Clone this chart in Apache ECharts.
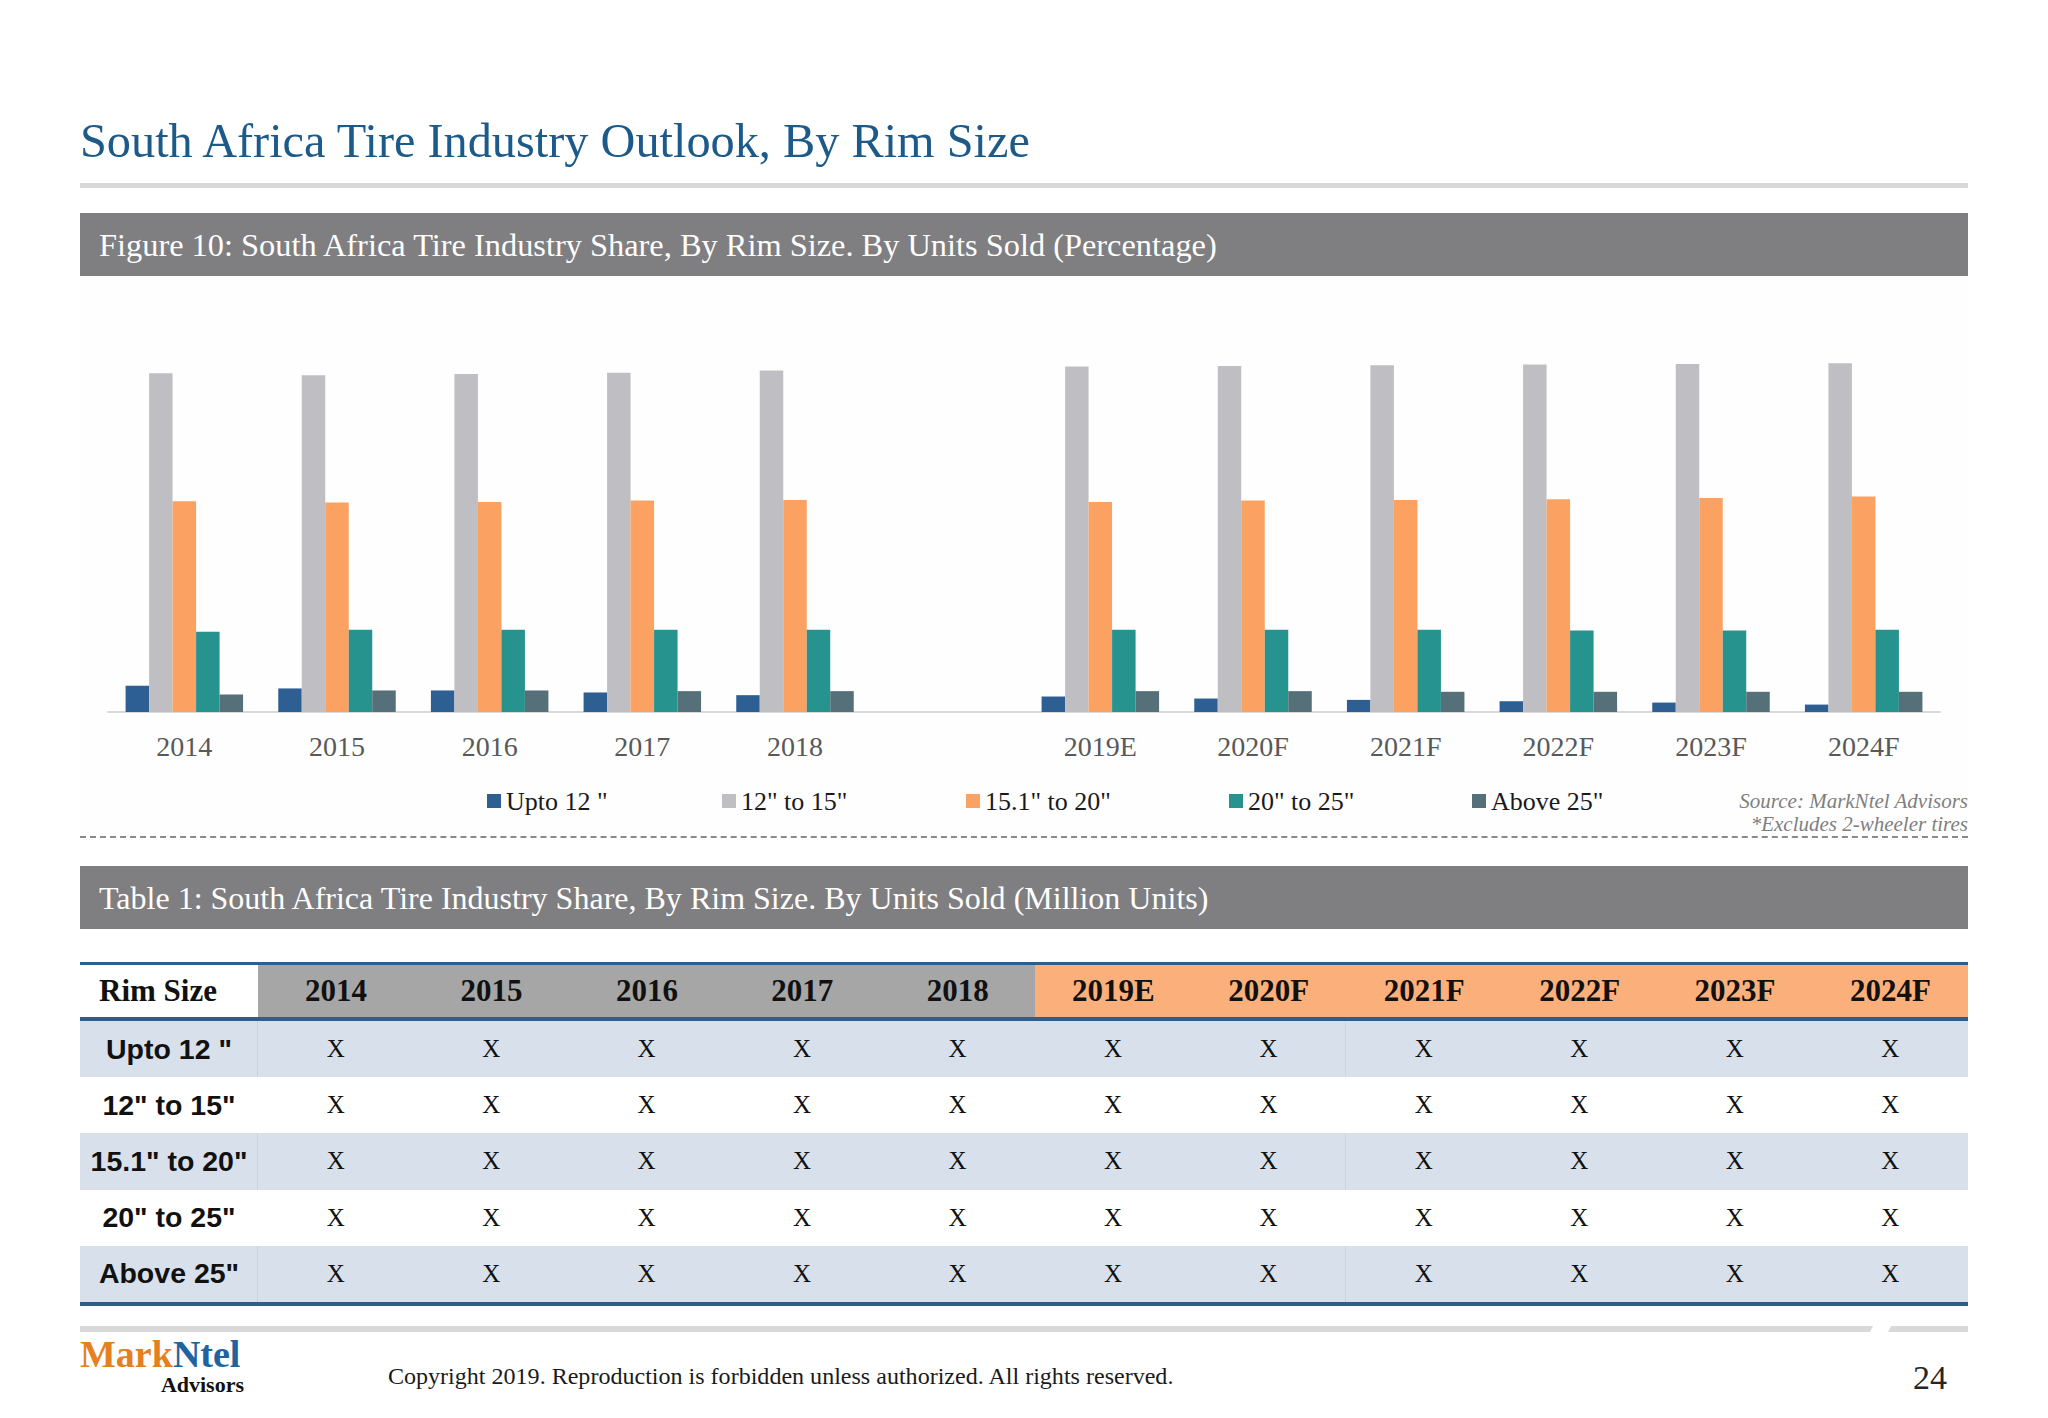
<!DOCTYPE html>
<html>
<head>
<meta charset="utf-8">
<script src="https://cdn.jsdelivr.net/npm/echarts@6.0.0/dist/echarts.min.js"></script>
<style>
  html, body { margin:0; padding:0; background:#ffffff; }
  body { width:2048px; height:1418px; position:relative; overflow:hidden; font-family:'Liberation Serif', serif; }
  .abs { position:absolute; }
  .vc { transform:translateY(-50%); line-height:1; white-space:nowrap; }
  #title { left:80px; top:141px; font-size:48px; color:#1c5a89; }
  .rule { background:#d9d9d9; }
  .band { background:#7f7e80; left:80px; width:1888px; }
  .bandtext { color:#ffffff; font-size:31px; left:99px; }
  #chart { left:80px; top:276px; width:1888px; height:560px; background:#fefefe; }
  #dash { left:80px; top:836px; width:1888px; height:0; border-top:2px dashed #8a8a8a; }
  .src { right:80px; color:#7f7f7f; font-style:italic; font-size:21px; text-align:right; }
  #table { left:80px; top:962px; width:1888px; }
  .tb { position:absolute; left:0; width:1888px; background:#2f5d8c; }
  .cell { position:absolute; display:flex; align-items:center; justify-content:center; box-sizing:border-box; }
  .hdr { font-weight:bold; font-size:31px; color:#111; }
  .lbl { font-family:'Liberation Sans', Arial, sans-serif; font-weight:bold; font-size:28.5px; color:#111; }
  .val { font-size:25px; color:#111; }
  #copy { left:388px; top:1376px; font-size:22px; color:#1a1a1a; }
  #page { left:1913px; top:1378px; font-size:34px; color:#262626; }
  #logo1 { left:80px; top:1354px; font-size:38px; font-weight:bold; }
  #logo2 { left:244px; top:1385px; font-size:22px; font-weight:bold; color:#111; transform:translate(-100%,-50%); }
</style>
</head>
<body>
<div id="title" class="abs vc">South Africa Tire Industry Outlook, By Rim Size</div>
<div class="abs rule" style="left:80px;top:183px;width:1888px;height:5px;"></div>
<div class="abs band" style="top:213px;height:63px;"></div>
<div id="figText" class="abs vc bandtext" style="top:245px;">Figure 10: South Africa Tire Industry Share, By Rim Size. By Units Sold (Percentage)</div>
<div id="chart" class="abs"></div>
<div class="abs vc src" style="top:801px;">Source: MarkNtel Advisors</div>
<div class="abs vc src" style="top:824px;">*Excludes 2-wheeler tires</div>
<div id="dash" class="abs"></div>
<div class="abs band" style="top:866px;height:63px;"></div>
<div id="tabText" class="abs vc bandtext" style="top:898px;">Table 1: South Africa Tire Industry Share, By Rim Size. By Units Sold (Million Units)</div>
<div id="table" class="abs"></div>
<div class="abs rule" style="left:80px;top:1326px;width:1793px;height:6px;clip-path:polygon(0 0,100% 0,calc(100% - 3px) 100%,0 100%);"></div>
<div class="abs rule" style="left:1888px;top:1326px;width:80px;height:6px;clip-path:polygon(3px 0,100% 0,100% 100%,0 100%);"></div>
<div id="logo1" class="abs vc"><span style="color:#e5801f">Mark</span><span style="color:#1f63a0">Ntel</span></div>
<div id="logo2" class="abs vc">Advisors</div>
<div id="copy" class="abs vc">Copyright 2019. Reproduction is forbidden unless authorized. All rights reserved.</div>
<div id="page" class="abs vc">24</div>

<script>
// ---------------- data ----------------
const categories = ['2014', '2015', '2016', '2017', '2018', '', '2019E', '2020F', '2021F', '2022F', '2023F', '2024F'];
const seriesNames = ['Upto 12 "', '12" to 15"', '15.1" to 20"', '20" to 25"', 'Above 25"'];
const upto12   = [3.9, 3.5, 3.2, 2.9, 2.5, null, 2.3, 2.0, 1.8, 1.6, 1.4, 1.1];
const r12to15  = [50.3, 50.0, 50.2, 50.4, 50.7, null, 51.3, 51.4, 51.5, 51.6, 51.7, 51.8];
const r15to20  = [31.3, 31.1, 31.2, 31.4, 31.5, null, 31.2, 31.4, 31.5, 31.6, 31.8, 32.0];
const r20to25  = [11.9, 12.2, 12.2, 12.2, 12.2, null, 12.2, 12.2, 12.2, 12.1, 12.1, 12.2];
const above25  = [2.6, 3.2, 3.2, 3.1, 3.1, null, 3.1, 3.1, 3.0, 3.0, 3.0, 3.0];

const tableHeaderLabel = 'Rim Size';
const tableYears = ['2014', '2015', '2016', '2017', '2018', '2019E', '2020F', '2021F', '2022F', '2023F', '2024F'];
const rimSizes = ['Upto 12 "', '12" to 15"', '15.1" to 20"', '20" to 25"', 'Above 25"'];
const rowUpto12  = ['X','X','X','X','X','X','X','X','X','X','X'];
const row12to15  = ['X','X','X','X','X','X','X','X','X','X','X'];
const row15to20  = ['X','X','X','X','X','X','X','X','X','X','X'];
const row20to25  = ['X','X','X','X','X','X','X','X','X','X','X'];
const rowAbove25 = ['X','X','X','X','X','X','X','X','X','X','X'];

// ---------------- chart ----------------
const seriesData = [upto12, r12to15, r15to20, r20to25, above25];
const colors = ['#2d5f93', '#bfbec2', '#fba262', '#27938f', '#557078'];
const legendLeft = [402, 637, 881, 1144, 1387];

const chart = echarts.init(document.getElementById('chart'), null, { renderer: 'svg' });
chart.setOption({
  animation: false,
  backgroundColor: 'transparent',
  grid: { left: 28, right: 28, top: 32, height: 404 },
  xAxis: {
    type: 'category',
    data: categories,
    axisLine: { lineStyle: { color: '#d9d9d9', width: 2 } },
    axisTick: { show: false },
    axisLabel: { color: '#595959', fontFamily: 'Liberation Serif', fontSize: 28, margin: 20, interval: 0 }
  },
  yAxis: { type: 'value', min: 0, max: 60, show: false, splitLine: { show: false } },
  legend: seriesNames.map((n, i) => ({
    data: [n],
    left: legendLeft[i],
    top: 507,
    icon: 'rect',
    itemWidth: 14,
    itemHeight: 14,
    selectedMode: false,
    textStyle: { fontFamily: 'Liberation Serif', fontSize: 26, color: '#1a1a1a', padding: [0, 0, 0, 0] }
  })),
  series: seriesNames.map((n, i) => ({
    name: n,
    type: 'bar',
    data: seriesData[i],
    barWidth: 23.5,
    barGap: '0%',
    itemStyle: { color: colors[i] }
  }))
});

// ---------------- table ----------------
const tableRows = [rowUpto12, row12to15, row15to20, row20to25, rowAbove25];
const tbl = document.getElementById('table');
const firstW = 178, colW = (1888 - 178) / 11;
const headTop = 3, headH = 52, midB = 4, rowH = 56.2;
function add(cls, style, text) {
  const d = document.createElement('div');
  d.className = cls;
  Object.assign(d.style, style);
  if (text !== undefined) d.textContent = text;
  tbl.appendChild(d);
  return d;
}
add('tb', { top: '0px', height: headTop + 'px' });
add('cell hdr', { left: '0px', top: headTop + 'px', width: firstW + 'px', height: headH + 'px', background: '#ffffff', justifyContent: 'flex-start', paddingLeft: '19px' }, tableHeaderLabel);
tableYears.forEach((y, j) => {
  add('cell hdr', { left: (firstW + j * colW) + 'px', top: headTop + 'px', width: (colW + 0.5) + 'px', height: headH + 'px', background: j < 5 ? '#a6a6a6' : '#fbb07b' }, y);
});
add('tb', { top: (headTop + headH) + 'px', height: midB + 'px' });
const bodyTop = headTop + headH + midB;
rimSizes.forEach((r, i) => {
  const top = bodyTop + i * rowH;
  const shaded = i % 2 === 0;
  add('cell', { left: '0px', top: top + 'px', width: '1888px', height: (rowH + 0.5) + 'px', background: shaded ? '#d8e1eb' : '#ffffff' });
  if (shaded) {
    add('cell', { left: (firstW - 1) + 'px', top: top + 'px', width: '1px', height: rowH + 'px', background: '#c9d2dd' });
    add('cell', { left: (firstW + 7 * colW - 1) + 'px', top: top + 'px', width: '1px', height: rowH + 'px', background: '#cbd4df' });
  }
  add('cell lbl', { left: '0px', top: top + 'px', width: firstW + 'px', height: rowH + 'px' }, r);
  tableRows[i].forEach((v, j) => {
    add('cell val', { left: (firstW + j * colW) + 'px', top: top + 'px', width: colW + 'px', height: rowH + 'px' }, v);
  });
});
add('tb', { top: (bodyTop + 5 * rowH) + 'px', height: '4px' });

// ---------------- fit long text lines to the reference widths ----------------
function fit(id, w) {
  const el = document.getElementById(id);
  const cur = el.getBoundingClientRect().width;
  const fs = parseFloat(getComputedStyle(el).fontSize);
  el.style.fontSize = (fs * w / cur) + 'px';
}
fit('title', 950);
fit('figText', 1118);
fit('tabText', 1110);
fit('copy', 786);
</script>
</body>
</html>
